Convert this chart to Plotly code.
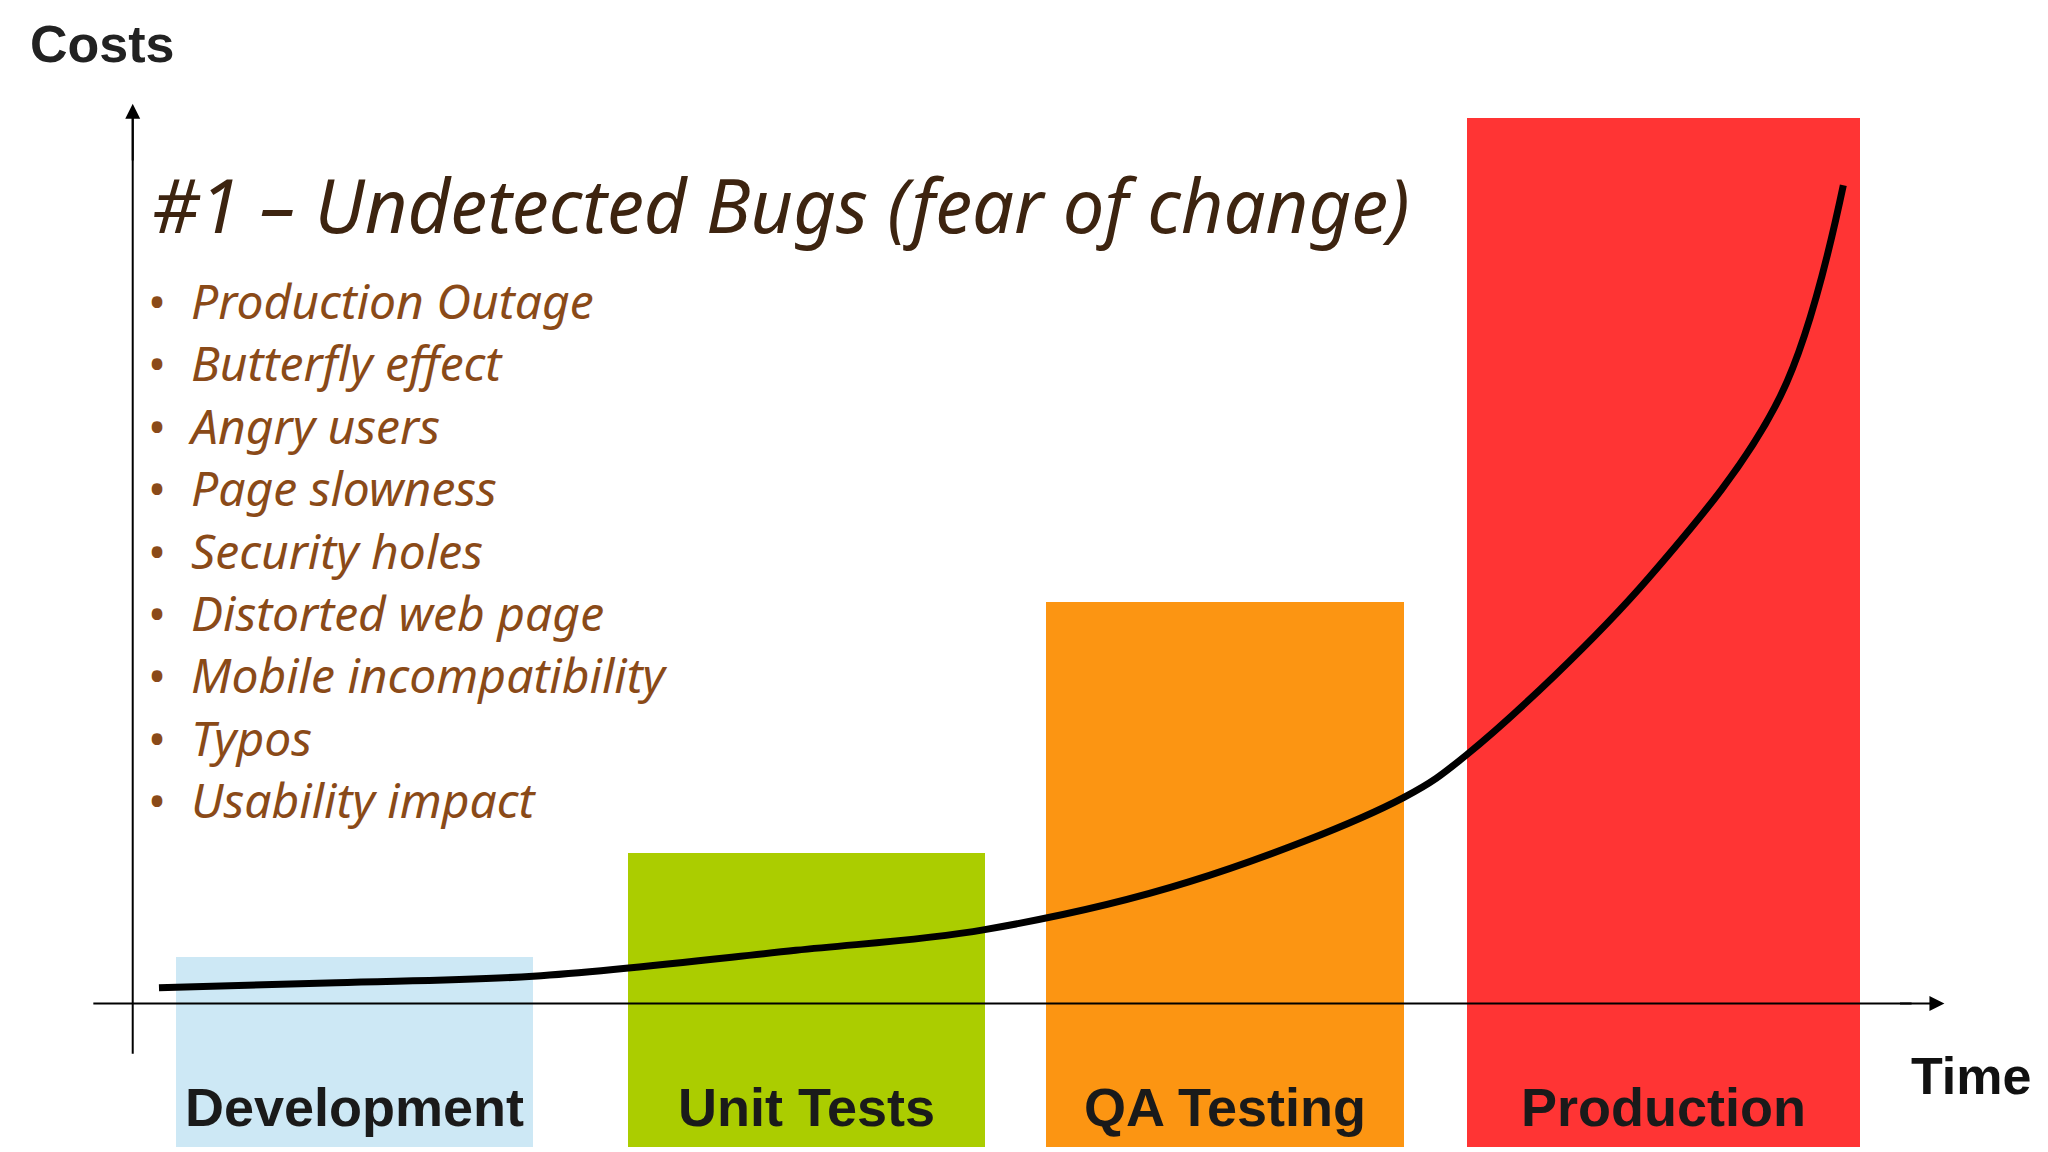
import plotly.graph_objects as go

# stages along the time axis (x in chart units, costs relative to the time axis)
stages = ["Development", "Unit Tests", "QA Testing", "Production"]
stage_x = [264, 608, 927, 1261]
stage_width = [272, 272, 272, 300]
stage_cost = [36, 116, 310, 684]
stage_colors = ["#cde8f5", "#abcd00", "#fc9512", "#ff3434"]

# cost curve
curve_x = [115, 250, 400, 600, 744, 900, 1063, 1111, 1250, 1350, 1398]
curve_y = [12, 16, 21, 41, 57, 94, 159, 192, 329, 469, 632]

title_text = "#1 – Undetected Bugs (fear of change)"
bullets = ["Production Outage", "Butterfly effect", "Angry users", "Page slowness",
           "Security holes", "Distorted web page", "Mobile incompatibility",
           "Typos", "Usability impact"]

base = -111

fig = go.Figure()
fig.add_trace(go.Bar(
    x=stage_x, y=[c - base for c in stage_cost], base=base, width=stage_width,
    marker=dict(color=stage_colors, line=dict(width=0)), showlegend=False,
))
fig.add_trace(go.Scatter(
    x=curve_x, y=curve_y, mode="lines", line=dict(color="black", width=7, shape="spline"),
    showlegend=False,
))

for name, x in zip(stages, stage_x):
    fig.add_annotation(x=x, y=-80, text=f"<b>{name}</b>", showarrow=False,
                       font=dict(family="Liberation Sans", size=54, color="#1a1a1a"))

# axes with arrows
fig.add_shape(type="line", x0=95, x1=95, y0=-39, y1=690, line=dict(color="black", width=2))
fig.add_shape(type="line", x0=65, x1=1450, y0=0, y1=0, line=dict(color="black", width=2))
fig.add_annotation(x=95, y=695, ax=95, ay=650, axref="x", ayref="y", text="", showarrow=True,
                   arrowhead=2, arrowsize=1.5, arrowwidth=2, arrowcolor="black")
fig.add_annotation(x=1475, y=0, ax=1440, ay=0, axref="x", ayref="y", text="", showarrow=True,
                   arrowhead=2, arrowsize=1.5, arrowwidth=2, arrowcolor="black")

fig.add_annotation(x=15, y=741, xanchor="left", text="<b>Costs</b>", showarrow=False,
                   font=dict(family="Liberation Sans", size=52, color="#222222"))
fig.add_annotation(x=1495, y=-56, text="<b>Time</b>", showarrow=False,
                   font=dict(family="Liberation Sans", size=52, color="#111111"))

fig.add_annotation(x=108, y=617, xanchor="left", text=f"<i>{title_text}</i>", showarrow=False,
                   font=dict(family="Noto Sans", size=74, color="#3d2410"))
fig.add_annotation(x=105, y=570, xanchor="left", yanchor="top", align="left",
                   text="<br>".join(f"•  <i>{b}</i>" for b in bullets), showarrow=False,
                   font=dict(family="Noto Sans", size=48, color="#8a4a18"))

fig.update_layout(
    width=2048, height=1152, margin=dict(l=0, r=0, t=0, b=0),
    plot_bgcolor="white", paper_bgcolor="white", bargap=0,
    xaxis=dict(range=[0, 1560], visible=False, fixedrange=True),
    yaxis=dict(range=[-121, 769], visible=False, fixedrange=True),
)
fig.write_html("out.html")
